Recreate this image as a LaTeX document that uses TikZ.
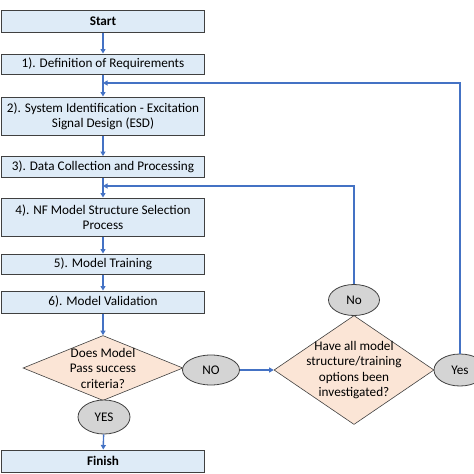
\documentclass[tikz,border=0pt]{standalone}
\usepackage{fontspec}
\setmainfont{Carlito}
\usetikzlibrary{shapes.geometric,arrows.meta}
\definecolor{boxblue}{HTML}{DEEBF7}
\definecolor{peach}{HTML}{FBE5D6}
\definecolor{ovalgray}{HTML}{D4D4D4}
\definecolor{edgegray}{HTML}{404040}
\definecolor{lineblue}{HTML}{4472C4}
\tikzset{
  box/.style={draw=edgegray, line width=1pt, fill=boxblue, minimum width=203pt, inner sep=0pt, align=center, font=\fontsize{13.2}{15}\selectfont},
  decision/.style={diamond, draw=edgegray, line width=0.6pt, fill=peach, inner sep=-10pt, align=center, font=\fontsize{13.2}{15.5}\selectfont},
  answer/.style={ellipse, draw=edgegray, line width=0.8pt, fill=ovalgray, inner sep=0pt, font=\fontsize{13.2}{15}\selectfont},
  flow/.style={draw=lineblue, line width=1.4pt, -{Triangle[length=4.5pt,width=5pt]}},
}
\begin{document}
\begin{tikzpicture}[x=1pt, y=-1pt]
  \useasboundingbox (0,0) rectangle (474,474);
  \node[box, minimum height=22pt] (start)  at (103,21)  {\textbf{Start}};                                 %
  \node[box, minimum height=20pt] (req)    at (103,64)  {1). Definition of Requirements};                 %
  \node[box, minimum height=38pt] (esd)    at (103,116) {2). System Identification - Excitation\\Signal Design (ESD)};
  \node[box, minimum height=21pt] (data)   at (103,167) {3). Data Collection and Processing};             %
  \node[box, minimum height=38pt] (struct) at (103,217) {4). NF Model Structure Selection\\Process};      %
  \node[box, minimum height=20pt] (train)  at (103,264) {5). Model Training};                             %
  \node[box, minimum height=22pt] (valid)  at (103,302) {6). Model Validation};                           %
  \node[box, minimum height=22pt] (finish) at (103,461) {\textbf{Finish}};                                %
  \node[decision, shape aspect=2.5, minimum width=160pt, minimum height=65pt] (pass) at (103,368)
       {Does Model\\Pass success\\criteria?};                                                              %
  \node[decision, shape aspect=1.4, minimum width=160pt, minimum height=109pt] (tried) at (354,370)
       {Have all model\\structure/training\\options been\\investigated?};                                  %
  \node[answer, minimum width=52pt, minimum height=34pt] (passyes) at (104,417) {YES};                     %
  \node[answer, minimum width=57pt, minimum height=30pt] (passno)  at (211,370) {NO};                      %
  \node[answer, minimum width=51pt, minimum height=31pt] (triedno) at (354,300) {No};                      %
  \node[answer, minimum width=52pt, minimum height=32pt] (triedyes) at (460,370) {Yes};                    %
  \coordinate (backreq)    at (103,83);                                                                    %
  \coordinate (backstruct) at (103,186);                                                                   %
  \draw[flow] (start)  -- (req);
  \draw[flow] (req)    -- (esd);
  \draw[flow] (esd)    -- (data);
  \draw[flow] (data)   -- (struct);
  \draw[flow] (struct) -- (train);
  \draw[flow] (train)  -- (valid);
  \draw[flow] (valid)  -- (pass);
  \draw[flow] (passyes) -- (finish);
  \draw[flow] (passno)  -- (tried);
  \draw[flow] (triedno.north)  |- (backstruct);                                                            %No
  \draw[flow] (triedyes.north) |- (backreq);                                                               %Yes
\end{tikzpicture}
\end{document}
